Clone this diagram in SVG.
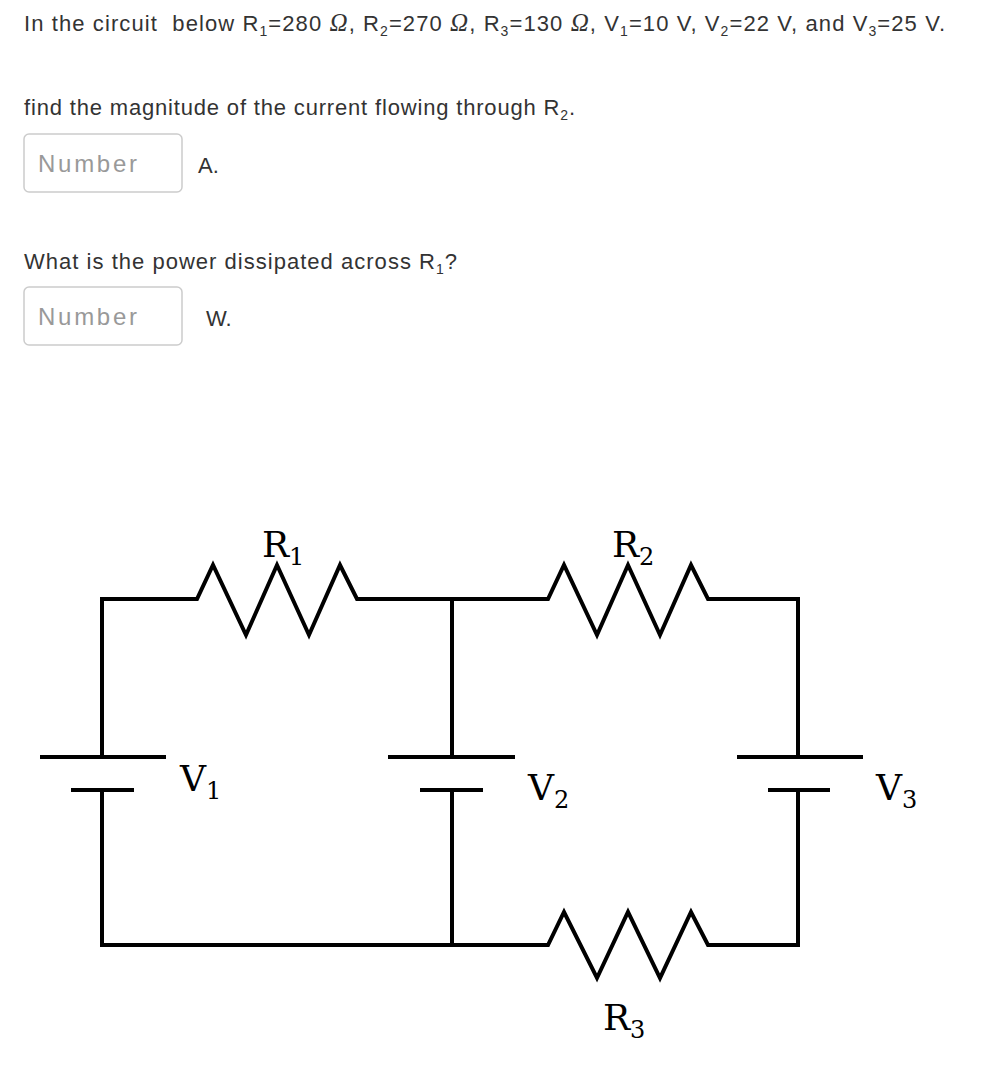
<svg xmlns="http://www.w3.org/2000/svg" width="1006" height="1070" viewBox="0 0 1006 1070">
<style>
.t{font-family:"Liberation Sans",Arial,sans-serif;font-size:22px;fill:#333}
.om{font-family:"Liberation Serif",serif;font-style:italic;font-size:25px}
.box{fill:#fff;stroke:#ccc;stroke-width:1.5}
.ph{font-family:"Liberation Sans",Arial,sans-serif;font-size:24px;fill:#999}
.w{fill:none;stroke:#000;stroke-width:4;stroke-linejoin:miter;stroke-linecap:butt}
.l{font-family:"DejaVu Serif","Liberation Serif",serif;font-size:36px;fill:#000}
.s{font-size:24px}
</style>
<rect width="1006" height="1070" fill="#fff"/>
<text class="t" x="24" y="31" xml:space="preserve" textLength="921" lengthAdjust="spacing">In the circuit  below R<tspan font-size="14" dy="5">1</tspan><tspan dy="-5">=280 </tspan><tspan class="om">Ω</tspan>, R<tspan font-size="14" dy="5">2</tspan><tspan dy="-5">=270 </tspan><tspan class="om">Ω</tspan>, R<tspan font-size="14" dy="5">3</tspan><tspan dy="-5">=130 </tspan><tspan class="om">Ω</tspan>, V<tspan font-size="14" dy="5">1</tspan><tspan dy="-5">=10 V, V</tspan><tspan font-size="14" dy="5">2</tspan><tspan dy="-5">=22 V, and V</tspan><tspan font-size="14" dy="5">3</tspan><tspan dy="-5">=25 V.</tspan></text>
<text class="t" x="24" y="115" textLength="551" lengthAdjust="spacing">find the magnitude of the current flowing through R<tspan font-size="14" dy="5">2</tspan><tspan dy="-5">.</tspan></text>
<g id="input1"><rect class="box" x="24" y="134" width="158" height="58" rx="5"/><text class="ph" x="38" y="172" textLength="99" lengthAdjust="spacing">Number</text><text class="t" x="198" y="173">A.</text></g>
<text class="t" x="24" y="269" textLength="433" lengthAdjust="spacing">What is the power dissipated across R<tspan font-size="14" dy="5">1</tspan><tspan dy="-5">?</tspan></text>
<g id="input2"><rect class="box" x="24" y="287" width="158" height="58" rx="5"/><text class="ph" x="38" y="325" textLength="99" lengthAdjust="spacing">Number</text><text class="t" x="206" y="326">W.</text></g>
<g id="connectors">
<path class="w" d="M102,757 V599 H197 L213,565 L246,635 L277,565 L309,635 L340,565 L357,599 H452 V757"/>
<path class="w" d="M452,599 H548 L564,565 L597,635 L628,565 L660,635 L691,565 L708,599 H798 V757"/>
<path class="w" d="M102,790 V945 H548 L564,912 L597,978 L628,912 L660,978 L691,912 L708,945 H798 V790"/>
<path class="w" d="M452,790 V945"/>
</g>
<g id="V1"><path class="w" d="M40,757 H166 M71,790 H134"/><text class="l" x="180" y="791">V<tspan class="s" dy="8">1</tspan></text></g>
<g id="V2"><path class="w" d="M388,757 H515 M420,790 H483"/><text class="l" x="528" y="800">V<tspan class="s" dy="8">2</tspan></text></g>
<g id="V3"><path class="w" d="M737,757 H863 M768,790 H830"/><text class="l" x="876" y="800">V<tspan class="s" dy="8">3</tspan></text></g>
<g id="R1"><text class="l" x="262" y="557">R<tspan class="s" dy="8">1</tspan></text></g>
<g id="R2"><text class="l" x="612" y="557">R<tspan class="s" dy="8">2</tspan></text></g>
<g id="R3"><text class="l" x="603" y="1030">R<tspan class="s" dy="8">3</tspan></text></g>
</svg>
